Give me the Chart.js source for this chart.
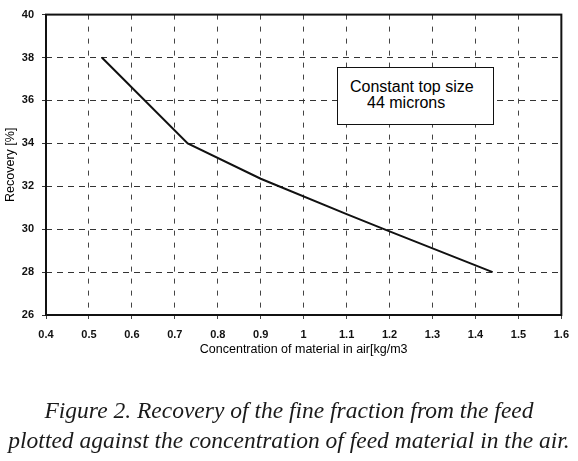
<!DOCTYPE html>
<html>
<head>
<meta charset="utf-8">
<script src="https://cdn.jsdelivr.net/npm/chart.js@4"></script>
<style>
  body { margin: 0; background: #fff; }
  #wrap { position: relative; width: 578px; height: 461px; }
  #note {
    position: absolute; left: 337px; top: 67px; width: 143px; height: 45px;
    border: 1.5px solid #111; background: #fff; font: 16px "Liberation Sans", Arial, sans-serif;
    color: #000; text-align: left; line-height: 16px; padding: 11px 0 0 12px; box-sizing: content-box;
  }
  #note span { margin-left: 17px; }
  #caption {
    position: absolute; left: 0; top: 395px; width: 578px; text-align: center;
    font: italic 23.5px "Liberation Serif", "Times New Roman", serif; color: #1a1a1a; line-height: 30px;
  }
</style>
</head>
<body>
<div id="wrap">
  <canvas id="myChart"></canvas>
  <div id="note">Constant top size<br><span>44 microns</span></div>
  <div id="caption">Figure 2. Recovery of the fine fraction from the feed<br>plotted against the concentration of feed material in the air.</div>
</div>
<script>
// concentration of material in air [kg/m3]
const concentration = [0.53, 0.73, 0.9, 1.1, 1.2, 1.44];
// recovery [%]
const recovery = [38, 34, 32.35, 30.7, 29.9, 28];

const xMin = 0.4, xMax = 1.6, xStep = 0.1;
const yMin = 26, yMax = 40, yStep = 2;

// draws the solid frame round the plot area
const framePlugin = {
  id: "frame",
  afterDraw(chart) {
    const { ctx, chartArea: a } = chart;
    ctx.save();
    ctx.strokeStyle = "#111";
    ctx.lineWidth = 2;
    ctx.strokeRect(a.left, a.top, a.right - a.left, a.bottom - a.top);
    ctx.restore();
  },
};

const tickFont = { family: "Liberation Sans", size: 11, weight: "bold" };
const titleFont = { family: "Liberation Sans", size: 12.5 };

document.addEventListener("DOMContentLoaded", () => {
  let chart = new Chart("myChart", {
    type: "scatter",
    data: {
      datasets: [
        {
          data: concentration.map((x, i) => ({ x: x, y: recovery[i] })),
          borderColor: "#111",
          borderWidth: 2,
          showLine: true,
          tension: 0,
          pointRadius: 0,
        },
      ],
    },
    options: {
      animation: false,
      responsive: true,
      maintainAspectRatio: false,
      layout: { padding: { left: 0, right: 16, top: 12, bottom: 101 } },
      plugins: { legend: { display: false }, tooltip: { enabled: false } },
      scales: {
        x: {
          type: "linear",
          min: xMin,
          max: xMax,
          afterFit: (s) => { s.height = 45; },
          ticks: {
            stepSize: xStep,
            padding: 9,
            color: "#111",
            font: tickFont,
            callback: (v) => String(Number(v.toFixed(1))),
          },
          grid: { color: "#444", lineWidth: 1, tickLength: 4, tickBorderDash: [] },
          border: { display: false, dash: [5, 7] },
          title: {
            display: true,
            text: "Concentration of material in air[kg/m3",
            color: "#000",
            font: titleFont,
            padding: { top: 0, bottom: 3 },
          },
        },
        y: {
          min: yMin,
          max: yMax,
          afterFit: (s) => { s.width = 46; },
          ticks: { stepSize: yStep, padding: 8, color: "#111", font: tickFont },
          grid: { color: "#333", lineWidth: 1, tickLength: 4, tickBorderDash: [] },
          border: { display: false, dash: [6, 5] },
          title: {
            display: true,
            text: "Recovery [%]",
            color: "#000",
            font: titleFont,
            padding: { top: 3, bottom: 3 },
          },
        },
      },
    },
    plugins: [framePlugin],
  });
});
</script>
</body>
</html>
